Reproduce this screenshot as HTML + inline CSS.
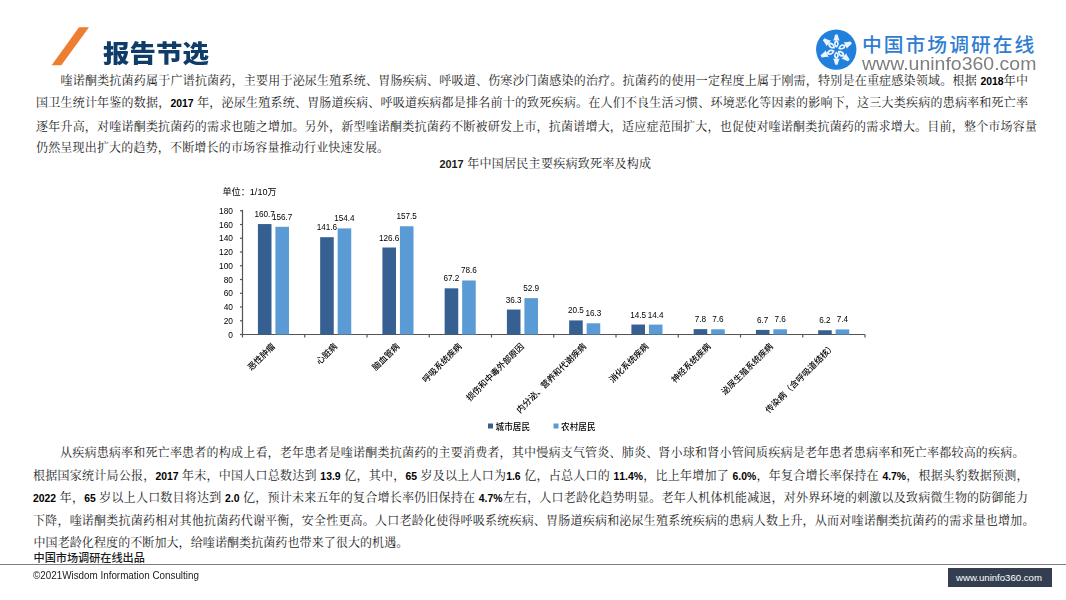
<!DOCTYPE html>
<html lang="zh-CN">
<head>
<meta charset="utf-8">
<title>报告节选</title>
<style>
html,body{margin:0;padding:0;}
body{width:1066px;height:600px;position:relative;overflow:hidden;background:#fff;font-family:"Liberation Sans","Noto Sans CJK SC",sans-serif;color:#000;}
.abs{position:absolute;}
.ln{position:absolute;text-spacing-trim:space-all;font-kerning:none;left:36px;width:991.5px;height:16px;line-height:16px;font-family:"Liberation Sans","Noto Serif CJK SC",serif;font-size:12px;color:#1c1c1c;white-space:nowrap;text-align:justify;text-align-last:justify;}
.ln b{font-family:"Liberation Sans","Noto Sans CJK SC",sans-serif;font-weight:bold;font-size:10.4px;color:#000;letter-spacing:0;}
.title{position:absolute;left:103px;width:106px;top:37.9px;height:32px;line-height:32px;font-size:26.5px;font-weight:900;color:#0f3c68;font-family:"Liberation Sans","Noto Sans CJK SC",sans-serif;white-space:nowrap;text-align:justify;text-align-last:justify;transform-origin:0 50%;transform:scaleY(0.91);}
.ctitle{position:absolute;left:439.4px;width:211.7px;top:155.5px;height:16px;line-height:16px;text-align:justify;text-align-last:justify;font-family:"Liberation Sans","Noto Serif CJK SC",serif;font-size:12px;color:#1c1c1c;white-space:nowrap;}
.ctitle b{font-family:"Liberation Sans","Noto Sans CJK SC",sans-serif;font-size:10.9px;}
.logo-cn{position:absolute;left:862px;width:172.3px;top:31.5px;height:26px;line-height:26px;font-size:19.8px;font-weight:500;color:#2f7dd1;white-space:nowrap;text-align:justify;text-align-last:justify;font-family:"Liberation Sans","Noto Sans CJK SC",sans-serif;}
.logo-url{position:absolute;left:862px;top:52.6px;height:22px;line-height:22px;font-size:17.8px;color:#7f7f7f;white-space:nowrap;font-family:"Liberation Sans","Noto Sans CJK SC",sans-serif;transform-origin:0 50%;transform:scaleX(1.096);}
.foot1{position:absolute;left:33.5px;width:111.4px;top:550.8px;height:14px;line-height:14px;font-size:11.15px;color:#1a1a1a;white-space:nowrap;font-weight:500;text-align:justify;text-align-last:justify;}
.foot2{position:absolute;left:33px;top:569.8px;height:12px;line-height:12px;font-size:9.85px;color:#1a1a1a;white-space:nowrap;transform-origin:0 60%;transform:scaleY(1.1);}
.hr{position:absolute;left:0;top:563.6px;width:1066px;height:1px;background:#7f7f7f;}
.btn{position:absolute;left:948px;top:568px;width:104px;height:19px;line-height:19px;background:#333f50;color:#fff;font-size:9.6px;text-align:center;text-indent:-2px;}
.nocjk .ln,.nocjk .ctitle{-webkit-text-stroke:0.45px #1c1c1c;}
.nocjk .ln b,.nocjk .ctitle b{-webkit-text-stroke:0;}
.nocjk .title{-webkit-text-stroke:3px #0f3c68;}
.nocjk .logo-cn{-webkit-text-stroke:1.2px #2f7dd1;}
.nocjk .foot1{-webkit-text-stroke:0.5px #1a1a1a;}
</style>
</head>
<body>

<!-- header -->
<svg class="abs" style="left:0;top:0" width="1066" height="100" viewBox="0 0 1066 100">
  <polygon points="79,27.2 89,27.2 61.3,65.3 51.7,65.3" fill="#ed7d31"/>
  <circle cx="836.25" cy="49.6" r="20.2" fill="#2180dc"/>
  <g transform="translate(836.4 49.6)" fill="#eaf4fe" stroke="none">
    <g id="arm">
      <path d="M-1.2,-15.2 L1.2,-15.2 L2.5,-10.6 L3.4,-9.2 L-3.4,-9.2 L-2.5,-10.6 Z"/>
      <path d="M0,-9.6 C3.3,-8 3,-4 0,-1.8 C-3,-4 -3.3,-8 0,-9.6 Z M0,-7.4 C-1.1,-6.4 -1.0,-5 0,-4 C1.0,-5 1.1,-6.4 0,-7.4 Z" fill-rule="evenodd"/>
    </g>
    <use href="#arm" transform="rotate(65) scale(1.08)"/>
    <use href="#arm" transform="rotate(131) scale(1.08)"/>
    <use href="#arm" transform="rotate(180)"/>
    <use href="#arm" transform="rotate(246) scale(1.1)"/>
    <use href="#arm" transform="rotate(309) scale(1.08)"/>
  </g>
</svg>
<div class="title">报告节选</div>
<div class="logo-cn">中国市场调研在线</div>
<div class="logo-url">www.uninfo360.com</div>

<!-- paragraph 1 -->
<div class="ln" style="left:60.5px;width:967.5px;top:72.5px">喹诺酮类抗菌药属于广谱抗菌药，主要用于泌尿生殖系统、胃肠疾病、呼吸道、伤寒沙门菌感染的治疗。抗菌药的使用一定程度上属于刚需，特别是在重症感染领域。根据 <b>2018</b>年中</div>
<div class="ln" style="left:36px;width:992px;top:94.7px">国卫生统计年鉴的数据，<b>2017</b> 年，泌尿生殖系统、胃肠道疾病、呼吸道疾病都是排名前十的致死疾病。在人们不良生活习惯、环境恶化等因素的影响下，这三大类疾病的患病率和死亡率</div>
<div class="ln" style="left:36px;width:1001px;top:118.5px">逐年升高，对喹诺酮类抗菌药的需求也随之增加。另外，新型喹诺酮类抗菌药不断被研发上市，抗菌谱增大，适应症范围扩大，也促使对喹诺酮类抗菌药的需求增大。目前，整个市场容量</div>
<div class="ln" style="left:36px;width:353.1px;top:139.5px">仍然呈现出扩大的趋势，不断增长的市场容量推动行业快速发展。</div>

<div class="ctitle"><b>2017</b> 年中国居民主要疾病致死率及构成</div>

<!-- chart -->
<svg class="abs" style="left:0;top:170px;filter:blur(0.4px)" width="1066" height="270" viewBox="0 170 1066 270" font-family="Liberation Sans, Noto Sans CJK SC, sans-serif">
<text x="222.5" y="195.2" font-size="9.1" fill="#000" textLength="54.1">单位：1/10万</text>
<path d="M242.5 209.79999999999998 V334.5 H865.0" fill="none" stroke="#555" stroke-width="1.2"/>
<path d="M240.0 334.50 H242.5" stroke="#555" stroke-width="1.2"/>
<text x="233.0" y="337.50" font-size="8.4" fill="#000" text-anchor="end">0</text>
<path d="M240.0 320.76 H242.5" stroke="#555" stroke-width="1.2"/>
<text x="233.0" y="323.76" font-size="8.4" fill="#000" text-anchor="end">20</text>
<path d="M240.0 307.01 H242.5" stroke="#555" stroke-width="1.2"/>
<text x="233.0" y="310.01" font-size="8.4" fill="#000" text-anchor="end">40</text>
<path d="M240.0 293.27 H242.5" stroke="#555" stroke-width="1.2"/>
<text x="233.0" y="296.27" font-size="8.4" fill="#000" text-anchor="end">60</text>
<path d="M240.0 279.52 H242.5" stroke="#555" stroke-width="1.2"/>
<text x="233.0" y="282.52" font-size="8.4" fill="#000" text-anchor="end">80</text>
<path d="M240.0 265.78 H242.5" stroke="#555" stroke-width="1.2"/>
<text x="233.0" y="268.78" font-size="8.4" fill="#000" text-anchor="end">100</text>
<path d="M240.0 252.03 H242.5" stroke="#555" stroke-width="1.2"/>
<text x="233.0" y="255.03" font-size="8.4" fill="#000" text-anchor="end">120</text>
<path d="M240.0 238.29 H242.5" stroke="#555" stroke-width="1.2"/>
<text x="233.0" y="241.29" font-size="8.4" fill="#000" text-anchor="end">140</text>
<path d="M240.0 224.54 H242.5" stroke="#555" stroke-width="1.2"/>
<text x="233.0" y="227.54" font-size="8.4" fill="#000" text-anchor="end">160</text>
<path d="M240.0 210.80 H242.5" stroke="#555" stroke-width="1.2"/>
<text x="233.0" y="213.80" font-size="8.4" fill="#000" text-anchor="end">180</text>
<path d="M242.50 334.5 v3" stroke="#555" stroke-width="1.2"/>
<path d="M304.75 334.5 v3" stroke="#555" stroke-width="1.2"/>
<path d="M367.00 334.5 v3" stroke="#555" stroke-width="1.2"/>
<path d="M429.25 334.5 v3" stroke="#555" stroke-width="1.2"/>
<path d="M491.50 334.5 v3" stroke="#555" stroke-width="1.2"/>
<path d="M553.75 334.5 v3" stroke="#555" stroke-width="1.2"/>
<path d="M616.00 334.5 v3" stroke="#555" stroke-width="1.2"/>
<path d="M678.25 334.5 v3" stroke="#555" stroke-width="1.2"/>
<path d="M740.50 334.5 v3" stroke="#555" stroke-width="1.2"/>
<path d="M802.75 334.5 v3" stroke="#555" stroke-width="1.2"/>
<path d="M865.00 334.5 v3" stroke="#555" stroke-width="1.2"/>
<rect x="257.90" y="224.06" width="13.6" height="110.44" fill="#376092"/>
<text x="264.70" y="217.06" font-size="8.2" fill="#000" text-anchor="middle">160.7</text>
<rect x="275.40" y="226.81" width="13.6" height="107.69" fill="#5b9bd5"/>
<text x="282.20" y="219.81" font-size="8.2" fill="#000" text-anchor="middle">156.7</text>
<text transform="translate(275.62 346.80) rotate(-45)" font-size="8.6" font-weight="500" fill="#000" text-anchor="end" textLength="34.4">恶性肿瘤</text>
<rect x="320.15" y="237.19" width="13.6" height="97.31" fill="#376092"/>
<text x="326.95" y="230.19" font-size="8.2" fill="#000" text-anchor="middle">141.6</text>
<rect x="337.65" y="228.39" width="13.6" height="106.11" fill="#5b9bd5"/>
<text x="344.45" y="221.39" font-size="8.2" fill="#000" text-anchor="middle">154.4</text>
<text transform="translate(337.88 346.80) rotate(-45)" font-size="8.6" font-weight="500" fill="#000" text-anchor="end" textLength="25.8">心脏病</text>
<rect x="382.40" y="247.50" width="13.6" height="87.00" fill="#376092"/>
<text x="389.20" y="240.50" font-size="8.2" fill="#000" text-anchor="middle">126.6</text>
<rect x="399.90" y="226.26" width="13.6" height="108.24" fill="#5b9bd5"/>
<text x="406.70" y="219.26" font-size="8.2" fill="#000" text-anchor="middle">157.5</text>
<text transform="translate(400.12 346.80) rotate(-45)" font-size="8.6" font-weight="500" fill="#000" text-anchor="end" textLength="34.4">脑血管病</text>
<rect x="444.65" y="288.32" width="13.6" height="46.18" fill="#376092"/>
<text x="451.45" y="281.32" font-size="8.2" fill="#000" text-anchor="middle">67.2</text>
<rect x="462.15" y="280.48" width="13.6" height="54.02" fill="#5b9bd5"/>
<text x="468.95" y="273.48" font-size="8.2" fill="#000" text-anchor="middle">78.6</text>
<text transform="translate(462.38 346.80) rotate(-45)" font-size="8.6" font-weight="500" fill="#000" text-anchor="end" textLength="51.6">呼吸系统疾病</text>
<rect x="506.90" y="309.55" width="13.6" height="24.95" fill="#376092"/>
<text x="513.70" y="302.55" font-size="8.2" fill="#000" text-anchor="middle">36.3</text>
<rect x="524.40" y="298.15" width="13.6" height="36.35" fill="#5b9bd5"/>
<text x="531.20" y="291.15" font-size="8.2" fill="#000" text-anchor="middle">52.9</text>
<text transform="translate(524.62 346.80) rotate(-45)" font-size="8.6" font-weight="500" fill="#000" text-anchor="end" textLength="77.4">损伤和中毒外部原因</text>
<rect x="569.15" y="320.41" width="13.6" height="14.09" fill="#376092"/>
<text x="575.95" y="313.41" font-size="8.2" fill="#000" text-anchor="middle">20.5</text>
<rect x="586.65" y="323.30" width="13.6" height="11.20" fill="#5b9bd5"/>
<text x="593.45" y="316.30" font-size="8.2" fill="#000" text-anchor="middle">16.3</text>
<text transform="translate(586.88 346.80) rotate(-45)" font-size="8.6" font-weight="500" fill="#000" text-anchor="end" textLength="94.6">内分泌、营养和代谢疾病</text>
<rect x="631.40" y="324.54" width="13.6" height="9.96" fill="#376092"/>
<text x="638.20" y="317.54" font-size="8.2" fill="#000" text-anchor="middle">14.5</text>
<rect x="648.90" y="324.60" width="13.6" height="9.90" fill="#5b9bd5"/>
<text x="655.70" y="317.60" font-size="8.2" fill="#000" text-anchor="middle">14.4</text>
<text transform="translate(649.12 346.80) rotate(-45)" font-size="8.6" font-weight="500" fill="#000" text-anchor="end" textLength="51.6">消化系统疾病</text>
<rect x="693.65" y="329.14" width="13.6" height="5.36" fill="#376092"/>
<text x="700.45" y="322.14" font-size="8.2" fill="#000" text-anchor="middle">7.8</text>
<rect x="711.15" y="329.28" width="13.6" height="5.22" fill="#5b9bd5"/>
<text x="717.95" y="322.28" font-size="8.2" fill="#000" text-anchor="middle">7.6</text>
<text transform="translate(711.38 346.80) rotate(-45)" font-size="8.6" font-weight="500" fill="#000" text-anchor="end" textLength="51.6">神经系统疾病</text>
<rect x="755.90" y="329.90" width="13.6" height="4.60" fill="#376092"/>
<text x="762.70" y="322.90" font-size="8.2" fill="#000" text-anchor="middle">6.7</text>
<rect x="773.40" y="329.28" width="13.6" height="5.22" fill="#5b9bd5"/>
<text x="780.20" y="322.28" font-size="8.2" fill="#000" text-anchor="middle">7.6</text>
<text transform="translate(773.62 346.80) rotate(-45)" font-size="8.6" font-weight="500" fill="#000" text-anchor="end" textLength="68.8">泌尿生殖系统疾病</text>
<rect x="818.15" y="330.24" width="13.6" height="4.26" fill="#376092"/>
<text x="824.95" y="323.24" font-size="8.2" fill="#000" text-anchor="middle">6.2</text>
<rect x="835.65" y="329.41" width="13.6" height="5.09" fill="#5b9bd5"/>
<text x="842.45" y="322.41" font-size="8.2" fill="#000" text-anchor="middle">7.4</text>
<text transform="translate(835.88 346.80) rotate(-45)" font-size="8.6" font-weight="500" fill="#000" text-anchor="end" textLength="94.6">传染病（含呼吸道结核）</text>
<rect x="488" y="423.5" width="5" height="5" fill="#376092"/><text x="495.6" y="429.6" font-size="8.6" font-weight="500" fill="#000" textLength="34.4">城市居民</text>
<rect x="553.5" y="423.5" width="5" height="5" fill="#5b9bd5"/><text x="561.1" y="429.6" font-size="8.6" font-weight="500" fill="#000" textLength="34.4">农村居民</text>
</svg>

<!-- paragraph 2 -->
<div class="ln" style="left:60px;width:964.5px;top:445.2px">从疾病患病率和死亡率患者的构成上看，老年患者是喹诺酮类抗菌药的主要消费者，其中慢病支气管炎、肺炎、肾小球和肾小管间质疾病是老年患者患病率和死亡率都较高的疾病。</div>
<div class="ln" style="left:33px;width:995.5px;top:468px">根据国家统计局公报，<b>2017</b> 年末，中国人口总数达到 <b>13.9</b> 亿，其中，<b>65</b> 岁及以上人口为<b>1.6</b> 亿，占总人口的 <b>11.4%</b>，比上年增加了 <b>6.0%</b>，年复合增长率保持在 <b>4.7%</b>，根据头豹数据预测，</div>
<div class="ln" style="left:33px;width:995px;top:489.5px"><b>2022</b> 年，<b>65</b> 岁以上人口数目将达到 <b>2.0</b> 亿，预计未来五年的复合增长率仍旧保持在 <b>4.7%</b>左右，人口老龄化趋势明显。老年人机体机能减退，对外界环境的刺激以及致病微生物的防御能力</div>
<div class="ln" style="left:33px;width:1001.5px;top:513px">下降，喹诺酮类抗菌药相对其他抗菌药代谢平衡，安全性更高。人口老龄化使得呼吸系统疾病、胃肠道疾病和泌尿生殖系统疾病的患病人数上升，从而对喹诺酮类抗菌药的需求量也增加。</div>
<div class="ln" style="left:33.5px;width:374.8px;top:534.5px">中国老龄化程度的不断加大，给喹诺酮类抗菌药也带来了很大的机遇。</div>

<!-- footer -->
<div class="foot1">中国市场调研在线出品</div>
<div class="hr"></div>
<div class="foot2">©2021Wisdom Information Consulting</div>
<div class="btn">www.uninfo360.com</div>

<script>
(function(){try{
  var f='20px "Liberation Sans","Noto Serif CJK SC",serif';
  function d(ch){var c=document.createElement('canvas');c.width=28;c.height=28;var x=c.getContext('2d');x.font=f;x.textBaseline='top';x.fillText(ch,2,2);return c.toDataURL();}
  if(d('\u4e00')===d('\u9f98')&&d('\u4e00')===d('\u56fd')){document.documentElement.className+=' nocjk';}
}catch(e){}})();
</script>
</body>
</html>
